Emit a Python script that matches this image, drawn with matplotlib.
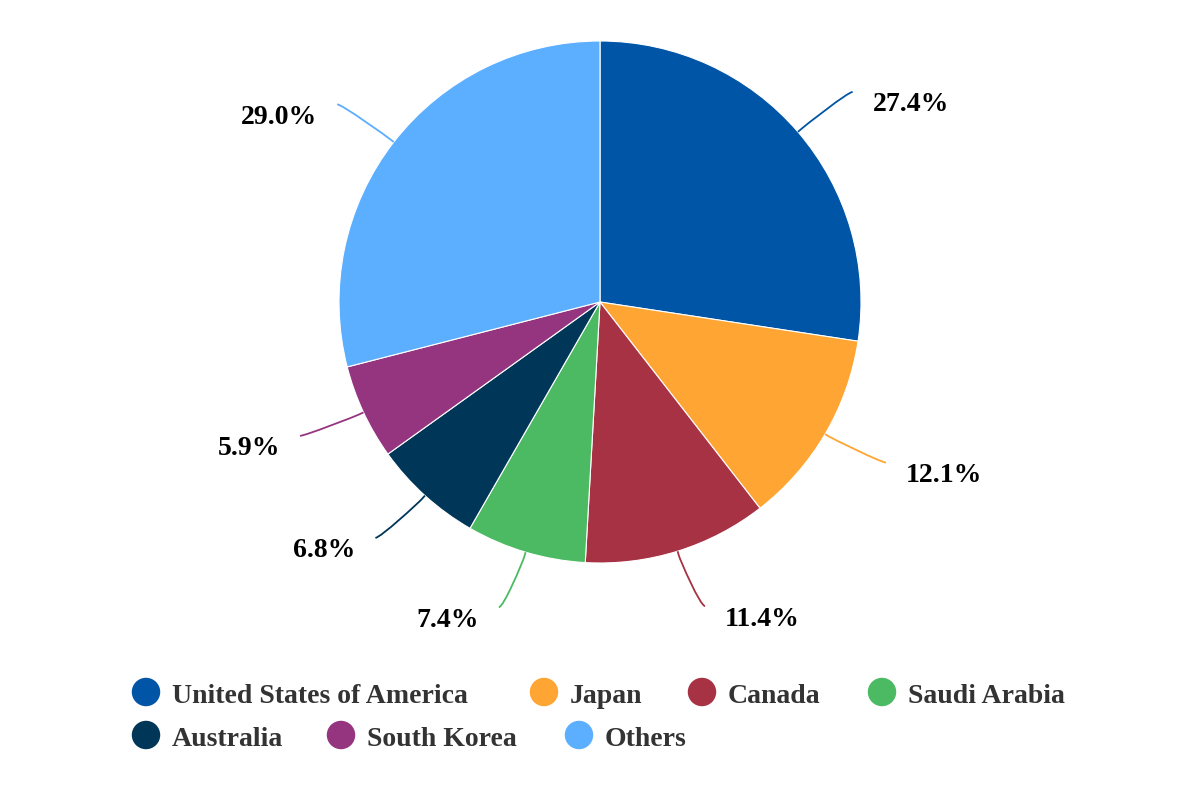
import numpy as np
import matplotlib
matplotlib.use("Agg")
import matplotlib.pyplot as plt
from matplotlib.path import Path
from matplotlib.patches import PathPatch

categories = ["United States of America", "Japan", "Canada", "Saudi Arabia",
              "Australia", "South Korea", "Others"]
values = [27.4, 12.1, 11.4, 7.4, 6.8, 5.9, 29.0]
labels = ["27.4%", "12.1%", "11.4%", "7.4%", "6.8%", "5.9%", "29.0%"]
colors = ["#0055A6", "#FFA533", "#A63244", "#4CBA63", "#003657", "#96357F", "#5CAEFF"]

W, H = 1200, 800
fig = plt.figure(figsize=(12, 8), dpi=100)
ax = fig.add_axes([0, 0, 1, 1])

cx, cy, R = 600, 800 - 302, 261
wedges, _ = ax.pie(values, colors=colors, startangle=90, counterclock=False,
                   center=(cx, cy), radius=R, frame=True,
                   wedgeprops=dict(edgecolor="white", linewidth=0.8))
ax.set_xlim(0, W)
ax.set_ylim(0, H)
ax.set_aspect("equal")
ax.axis("off")

FONT = "Liberation Serif"
LD = 320  # label distance radius
for w, lab, col in zip(wedges, labels, colors):
    mid = np.deg2rad((w.theta1 + w.theta2) / 2)
    c, s = np.cos(mid), np.sin(mid)
    side = 1 if c >= 0 else -1
    touch = np.array([cx + R * c, cy + R * s])
    brk = np.array([cx + (R + 5) * c, cy + (R + 5) * s])
    ctrl2 = 2 * brk - touch
    pe = np.array([cx + LD * c + side * 10, cy + LD * s + 1.5])
    ctrl1 = pe - np.array([side * 5, 0])
    path = Path([pe, ctrl1, ctrl2, brk, touch],
                [Path.MOVETO, Path.CURVE4, Path.CURVE4, Path.CURVE4, Path.LINETO])
    ax.add_patch(PathPatch(path, facecolor="none", edgecolor=col, lw=1.3))
    ax.text(pe[0] + side * 20, pe[1] - 19.5, lab, ha="left" if side > 0 else "right",
            va="baseline", fontsize=20, fontweight="bold", family=FONT, color="black")

# legend (flow layout, marker centres and baselines in pixels)
legend_pos = [(146, 692), (544, 692), (702, 692), (882, 692),
              (146, 735), (341, 735), (579, 735)]
for (lx, ly), name, col in zip(legend_pos, categories, colors):
    ax.scatter([lx], [H - ly], s=420, color=col, edgecolors="none", zorder=3)
    ax.text(lx + 26, H - (ly + 11), name, ha="left", va="baseline", fontsize=20,
            fontweight="bold", family=FONT, color="#333333")

fig.savefig("out.png", dpi=100)
